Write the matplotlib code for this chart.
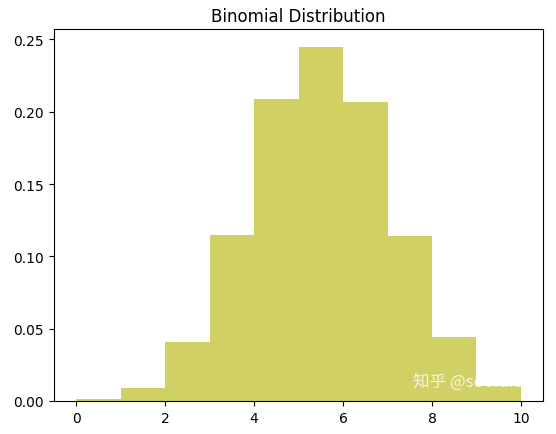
import matplotlib
matplotlib.use("Agg")
import matplotlib.pyplot as plt

# histogram bins (left edges) and density heights
bin_edges = [0, 1, 2, 3, 4, 5, 6, 7, 8, 9]
density = [0.001, 0.009, 0.041, 0.115, 0.209, 0.245, 0.207, 0.114, 0.044, 0.010]

fig, ax = plt.subplots(figsize=(5.56, 4.35), dpi=100)
fig.subplots_adjust(left=0.097, right=0.977, top=0.931, bottom=0.076)

ax.bar(bin_edges, density, width=1, align="edge", color="tab:olive", alpha=0.7)
ax.set_title("Binomial Distribution")

# watermark
ax.text(0.98, 0.03, "知乎 @soofaloh", transform=ax.transAxes, ha="right", va="bottom",
        fontsize=12, color="white", alpha=0.8,
        family=["Noto Sans CJK SC", "DejaVu Sans"])

fig.savefig("out.png", dpi=100)
